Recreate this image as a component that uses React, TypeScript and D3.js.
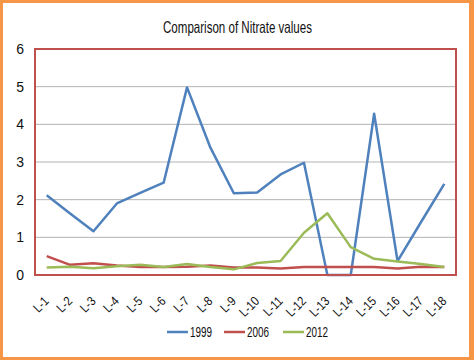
import React from "react";
import * as d3 from "d3";

const categories = ["L-1","L-2","L-3","L-4","L-5","L-6","L-7","L-8","L-9","L-10","L-11","L-12","L-13","L-14","L-15","L-16","L-17","L-18"];
const seriesNames = ["1999", "2006", "2012"];
const values1999 = [2.12, 1.63, 1.16, 1.9, 2.18, 2.45, 4.98, 3.38, 2.17, 2.19, 2.67, 2.98, 0, 0, 4.28, 0.37, 1.4, 2.42];
const values2006 = [0.5, 0.27, 0.31, 0.25, 0.21, 0.21, 0.22, 0.25, 0.2, 0.2, 0.17, 0.21, 0.21, 0.21, 0.21, 0.17, 0.22, 0.21];
const values2012 = [0.2, 0.22, 0.18, 0.23, 0.27, 0.21, 0.29, 0.21, 0.15, 0.32, 0.37, 1.12, 1.64, 0.74, 0.43, 0.36, 0.29, 0.21];
const yTicks = [0, 1, 2, 3, 4, 5, 6];
const colors = ["#4F81BD", "#C0504D", "#9BBB59"];

const W = 474, H = 360;
const left = 35, right = 456, top = 49, bottom = 275;
const font = "'Liberation Sans', Arial, sans-serif";

export default function App() {
  const x = d3.scaleBand<string>().domain(categories).range([left, right]);
  const cx = (c: string) => (x(c) as number) + x.bandwidth() / 2;
  const y = d3.scaleLinear().domain([0, 6]).range([bottom, top]);
  const line = d3.line<number>().x((_, i) => cx(categories[i])).y((v) => y(v));
  const all = [values1999, values2006, values2012];
  const legendX = [167, 224, 283];
  return (
    <svg width={W} height={H} style={{ position: "absolute", left: 0, top: 0 }}>
      <rect x={0} y={0} width={W} height={H} fill="#F79646" />
      <rect x={3} y={3} width={W - 8} height={H - 6} fill="#FFFFFF" />
      <text x={163} y={33} fontFamily={font} fontSize={16.5} fontWeight={500} fill="#111" textLength={149} lengthAdjust="spacingAndGlyphs">Comparison of Nitrate values</text>
      {yTicks.filter(t => t > 0 && t < 6).map(t => (
        <line key={t} x1={left} x2={right} y1={y(t)} y2={y(t)} stroke="#B3B3B3" strokeWidth={1} />
      ))}
      {yTicks.map(t => (
        <text key={t} x={24} y={y(t) + 5} textAnchor="end" fontFamily={font} fontSize={14} fill="#111">{t}</text>
      ))}
      {all.map((vals, i) => (
        <path key={i} d={line(vals) || ""} fill="none" stroke={colors[i]} strokeWidth={2.5} strokeLinejoin="round" />
      ))}
      <rect x={left} y={top} width={right - left} height={bottom - top} fill="none" stroke="#C0504D" strokeWidth={2} />
      {categories.map(c => (
        <text key={c} transform={`translate(${cx(c) + 3},${bottom + 27}) rotate(-45) scale(0.85,1)`} textAnchor="end" fontFamily={font} fontSize={13} fill="#111">{c}</text>
      ))}
      {seriesNames.map((s, i) => (
        <g key={s}>
          <line x1={legendX[i]} x2={legendX[i] + 21} y1={332} y2={332} stroke={colors[i]} strokeWidth={2.5} />
          <text x={legendX[i] + 23} y={337} fontFamily={font} fontSize={14.5} fill="#111" textLength={22} lengthAdjust="spacingAndGlyphs">{s}</text>
        </g>
      ))}
    </svg>
  );
}
